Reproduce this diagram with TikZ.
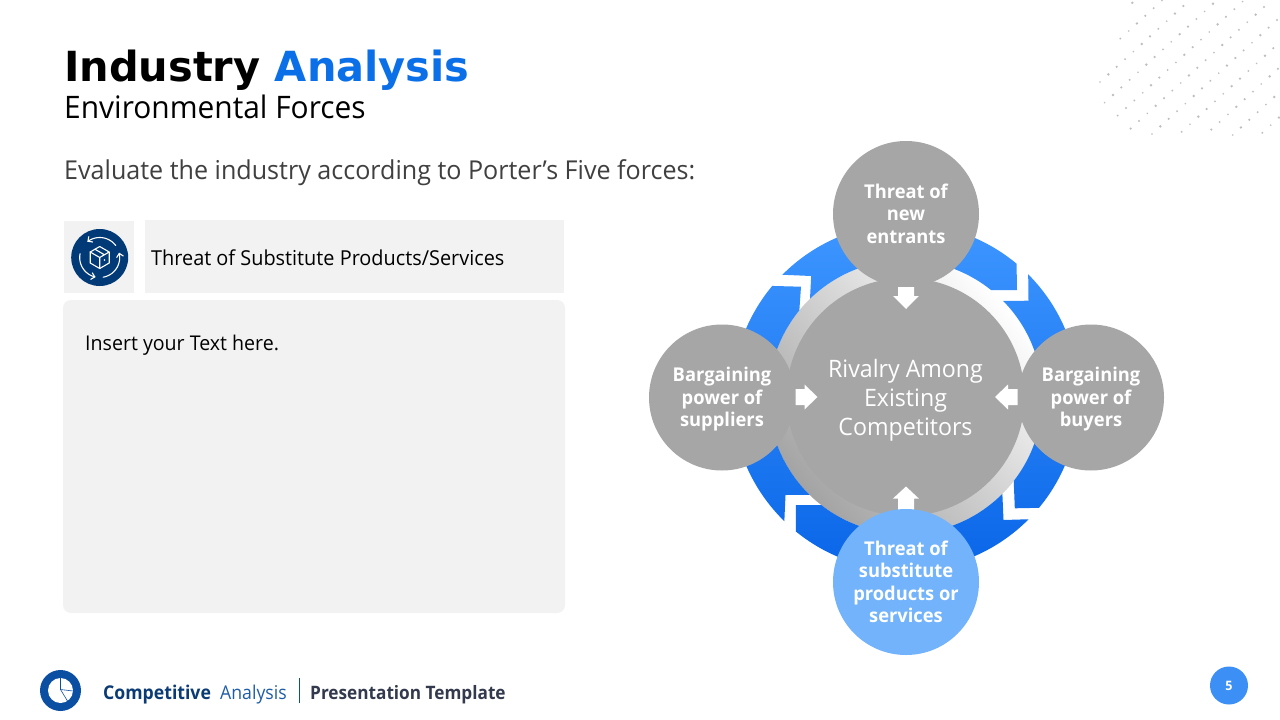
\documentclass[tikz,border=0pt]{standalone}
\usepackage{fontspec}
\setmainfont{Open Sans}[FakeStretch=0.965]
\newfontfamily\titlefont{DejaVu Sans}
\newfontfamily\footfont{Open Sans}[FakeStretch=0.93]
\usetikzlibrary{arrows.meta}
\definecolor{boxgrey}{HTML}{F2F2F2}
\definecolor{circgrey}{HTML}{A6A6A6}
\definecolor{circblue}{HTML}{72B3FB}
\definecolor{navy}{HTML}{023A78}
\definecolor{logoblue}{HTML}{0B4FA3}
\definecolor{titleblue}{HTML}{0B70E8}
\definecolor{ringtop}{HTML}{3D96FF}
\definecolor{ringbot}{HTML}{0A66E8}
\definecolor{txtgrey}{HTML}{404040}
\definecolor{footnavy}{HTML}{0B3B74}
\definecolor{footblue}{HTML}{1F5DA8}
\definecolor{footdark}{HTML}{333A4D}
\definecolor{badge}{HTML}{3B8FF5}
\definecolor{dotgrey}{HTML}{BEBEBE}
\newcommand{\pxfont}[2]{\fontsize{#1}{#2}\selectfont}
\newcommand{\forcetop}{\rule{0pt}{20.5pt}}
\newcommand{\maintop}{\rule{0pt}{28pt}}
% ring segment ending in a notch: outer arc #1->#2, corner (#3,#4), inner arc #5->#6
\newcommand{\ringseg}[6]{
  plot[domain=#1:#2,samples=24,smooth] ({905.5+173.5*cos(\x)},{397-173.5*sin(\x)})
  -- (#3,#4)
  -- plot[domain=#5:#6,samples=24,smooth] ({905.5+137*cos(\x)},{397-137*sin(\x)}) -- cycle
}
% ring segment starting at a notch: outer arc #1->#2, inner arc #3->#4, corner (#5,#6)
\newcommand{\ringsegb}[6]{
  plot[domain=#1:#2,samples=24,smooth] ({905.5+173.5*cos(\x)},{397-173.5*sin(\x)})
  -- plot[domain=#3:#4,samples=24,smooth] ({905.5+137*cos(\x)},{397-137*sin(\x)})
  -- (#5,#6) -- cycle
}
\tikzset{
  force/.style={circle,fill=circgrey,minimum size=146pt,inner sep=0pt,text=white,align=center,font=\bfseries\pxfont{19}{22.5}},
  blockarrow/.style={fill=white,draw=none},
  txt/.style={anchor=base west,inner sep=0pt},
  iconline/.style={draw=white,line width=1.1pt,line cap=round,line join=round},
  iconarrow/.style={iconline,-{Straight Barb[length=3.5pt,width=7pt]}}
}
\begin{document}
\begin{tikzpicture}[x=1pt,y=-1pt]
\useasboundingbox (0,0) rectangle (1280,720);
\fill[white] (0,0) rectangle (1280,720);
% halftone dots
\foreach \i in {-6,...,32}{\foreach \j in {-8,...,16}{
  \pgfmathsetmacro\px{1100+\i*8.33+\j*13}
  \pgfmathsetmacro\py{82-\i*7.6+\j*13}
  \pgfmathtruncatemacro\keep{and(and(\px<1280,\py>0),and(\py<135,and(\px-1100+(\py-82)*0.41>-1,\py-\px+1001<2)))}
  \ifnum\keep=1
    \pgfmathsetmacro\pr{0.9+0.45*mod(abs(\i*7+\j*3),4)/3}
    \fill[dotgrey] (\px,\py) circle[radius=\pr pt];
  \fi
}}
% titles
\node[txt,font=\titlefont\bfseries\pxfont{41.5}{48}] (title) at (64,81) {Industry \textcolor{titleblue}{Analysis}};
\node[txt,font=\pxfont{31}{34}] (subtitle) at (64,118) {Environmental Forces};
\node[txt,font=\pxfont{26}{30},text=txtgrey] (intro) at (64,179) {Evaluate the industry according to Porter's Five forces:};
% left panel
\fill[boxgrey] (64,221) rectangle (134,293);
\fill[boxgrey] (145,220) rectangle (564,293);
\fill[boxgrey,rounded corners=8pt] (63,300) rectangle (565,613);
\node[txt,font=\pxfont{20.6}{24}] (head) at (151,265) {Threat of Substitute Products/Services};
\node[txt,font=\pxfont{20.3}{24}] (body) at (85,350) {Insert your Text here.};
% icon
\fill[navy] (99.7,257.5) circle[radius=28.5pt];
\draw[iconarrow] plot[domain=37:128,samples=20,smooth] ({99.7+20*cos(\x)},{257.5-20*sin(\x)});
\draw[iconarrow] plot[domain=169:258,samples=20,smooth] ({99.7+20*cos(\x)},{257.5-20*sin(\x)});
\draw[iconarrow] plot[domain=-80:14,samples=20,smooth] ({99.7+20*cos(\x)},{257.5-20*sin(\x)});
\draw[iconline] (99.7,246.5) -- (109.2,252) -- (109.2,263) -- (99.7,268.5) -- (90.2,263) -- (90.2,252) -- cycle;
\draw[iconline] (90.2,252) -- (99.7,257.5) -- (109.2,252) (99.7,257.5) -- (99.7,268.5) (94.9,249.2) -- (104.5,254.8);
\fill[white] (104.5,260) circle[radius=0.9pt];
% shadow disc
\shade[top color=white,middle color=black!5,bottom color=black!36,shading angle=-48] (905.5,397) circle[radius=137pt];
% ring
\shade[top color=ringtop,middle color=ringtop!55!ringbot,bottom color=ringbot]
  \ringseg{88}{50.2}{1017}{290}{51.2}{88}
  \ringsegb{45}{5}{5}{44.5}{1028.5}{300.7}
  \ringseg{-5}{-39.7}{1014.8}{508.3}{-37.8}{-5}
  \ringsegb{-44.8}{-88}{-88}{-45}{1003.5}{520}
  \ringseg{268}{230.8}{795.8}{505}{232.1}{268}
  \ringsegb{225.7}{185}{185}{225.6}{785.5}{495}
  \ringseg{175}{140.2}{801}{286.7}{140.8}{175}
  \ringsegb{135.2}{92}{92}{134.2}{811.2}{276};
% centre
\node[circle,fill=circgrey,minimum size=238pt,inner sep=0pt,text=white,align=center,font=\pxfont{24}{29}] (main) at (905.5,397) {\maintop Rivalry Among\\Existing\\Competitors\strut};
% block arrows
\fill[blockarrow] (898,287) -- (914,287) -- (914,296) -- (918.8,296) -- (906,309) -- (893,296) -- (898,296) -- cycle;
\fill[blockarrow] (795.5,389) -- (804.5,389) -- (804.5,384.5) -- (817.5,397) -- (804.5,409.5) -- (804.5,405) -- (795.5,405) -- cycle;
\fill[blockarrow] (1017.5,389) -- (1008,389) -- (1008,384.5) -- (995,397) -- (1008,409.5) -- (1008,405) -- (1017.5,405) -- cycle;
\fill[blockarrow] (898,510) -- (914,510) -- (914,498.5) -- (918.8,498.5) -- (906,486.5) -- (893,498.5) -- (898,498.5) -- cycle;
% forces
\node[force] (top) at (906,214) {\forcetop Threat of\\new\\entrants\strut};
\node[force] (left) at (722,397.5) {\forcetop Bargaining\\power of\\suppliers\strut};
\node[force] (right) at (1091,397.5) {\forcetop Bargaining\\power of\\buyers\strut};
\node[force,fill=circblue] (bottom) at (906,582) {\forcetop Threat of\\substitute\\products or\\services\strut};
% footer
\fill[logoblue] (60.5,690.5) circle[radius=20.5pt];
\fill[white] (60.5,690.5) circle[radius=12.5pt];
\draw[logoblue,line width=0.6pt] (60.5,678) -- (60.5,689.5) -- (73,691) (60.5,689.5) -- (67.5,701);
\node[txt,font=\footfont\bfseries\pxfont{19}{22},text=footnavy] (foot1) at (103,699) {Competitive};
\node[txt,font=\footfont\pxfont{19}{22},text=footblue] (foot2) at (220,699) {Analysis};
\draw[logoblue,line width=1.6pt] (299.5,678) -- (299.5,703);
\node[txt,font=\footfont\bfseries\pxfont{18.5}{22},text=footdark] (foot3) at (310,699) {Presentation Template};
\node[circle,fill=badge,minimum size=38pt,inner sep=0pt,text=white,font=\bfseries\pxfont{13}{15}] (page) at (1229,685.5) {5};
\end{tikzpicture}
\end{document}
